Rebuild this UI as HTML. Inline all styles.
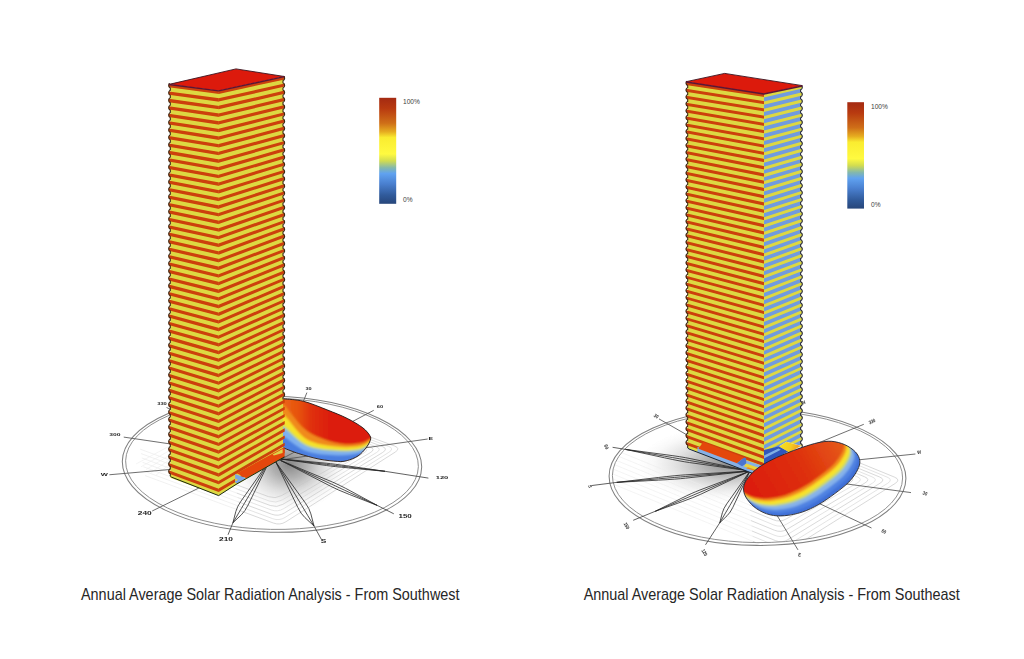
<!DOCTYPE html>
<html><head><meta charset="utf-8"><title>Annual Average Solar Radiation Analysis</title>
<style>
html,body{margin:0;padding:0;background:#fff;}
body{width:1024px;height:659px;overflow:hidden;position:relative;font-family:"Liberation Sans",sans-serif;}
svg{position:absolute;left:0;top:0;display:block;}
text{font-family:"Liberation Sans",sans-serif;}
</style></head><body>
<svg width="1024" height="659" viewBox="0 0 1024 659">
<defs>
<linearGradient id="leg" x1="0" y1="0" x2="0" y2="1">
<stop offset="0" stop-color="#a42a12"/>
<stop offset="0.10" stop-color="#b83a10"/>
<stop offset="0.24" stop-color="#cf6f18"/>
<stop offset="0.32" stop-color="#e6ac20"/>
<stop offset="0.375" stop-color="#faec30"/>
<stop offset="0.53" stop-color="#fffa40"/>
<stop offset="0.595" stop-color="#d2dc50"/>
<stop offset="0.66" stop-color="#84b8ac"/>
<stop offset="0.715" stop-color="#60a2f0"/>
<stop offset="0.81" stop-color="#4a80d0"/>
<stop offset="0.92" stop-color="#305a9a"/>
<stop offset="1" stop-color="#27467a"/>
</linearGradient>
<radialGradient id="shL" cx="0.5" cy="0.5" r="0.5">
<stop offset="0" stop-color="#707070" stop-opacity="0.85"/>
<stop offset="0.3" stop-color="#7c7c7c" stop-opacity="0.6"/>
<stop offset="0.6" stop-color="#888" stop-opacity="0.27"/>
<stop offset="0.85" stop-color="#999" stop-opacity="0.07"/>
<stop offset="1" stop-color="#999" stop-opacity="0"/>
</radialGradient>
<radialGradient id="shR" cx="0.5" cy="0.5" r="0.5">
<stop offset="0" stop-color="#707070" stop-opacity="0.8"/>
<stop offset="0.3" stop-color="#7c7c7c" stop-opacity="0.55"/>
<stop offset="0.6" stop-color="#888" stop-opacity="0.24"/>
<stop offset="0.85" stop-color="#999" stop-opacity="0.06"/>
<stop offset="1" stop-color="#999" stop-opacity="0"/>
</radialGradient>
<filter id="b1" x="-10%" y="-10%" width="120%" height="120%"><feGaussianBlur stdDeviation="0.9"/></filter>
<linearGradient id="ldtop" gradientUnits="userSpaceOnUse" x1="284" y1="0" x2="330" y2="0">
<stop offset="0" stop-color="#ea6214"/><stop offset="0.32" stop-color="#e6520f"/><stop offset="0.6" stop-color="#e0300e"/><stop offset="1" stop-color="#dc1e0c"/>
</linearGradient>
<linearGradient id="rdtop" gradientUnits="userSpaceOnUse" x1="765" y1="500" x2="850" y2="450">
<stop offset="0" stop-color="#dc1e0d"/><stop offset="0.55" stop-color="#de300e"/><stop offset="1" stop-color="#e55816"/>
</linearGradient>
<linearGradient id="canopy" gradientUnits="userSpaceOnUse" x1="781" y1="444" x2="798" y2="450">
<stop offset="0" stop-color="#f6de22"/><stop offset="0.55" stop-color="#f4cc20"/><stop offset="1" stop-color="#f09a1e"/>
</linearGradient>
<clipPath id="lgc"><ellipse cx="272" cy="464.2" rx="146" ry="66" transform="rotate(1.15 272 464.2)"/></clipPath>
<clipPath id="rgc"><ellipse cx="757.5" cy="477.2" rx="144.6" ry="66" transform="rotate(0.5 757.5 477.2)"/></clipPath>
<filter id="soft" x="-5%" y="-5%" width="110%" height="110%"><feGaussianBlur stdDeviation="0.35"/></filter>
<filter id="b2" x="-5%" y="-2%" width="110%" height="104%"><feGaussianBlur stdDeviation="0.55"/></filter>
</defs>

<g id="left-ground" filter="url(#soft)">
<ellipse cx="289" cy="464" rx="58" ry="47" fill="url(#shL)"/>
<g clip-path="url(#lgc)">
<line x1="145" y1="475.55" x2="240" y2="510.7" stroke="#e8e8e8" stroke-width="0.6"/>
<path d="M240 510.7 L273.43 523.07 Q280 525.5 285.9 521.74 L395.1 452.16 Q401 448.4 394.43 445.97 L356 431.75" fill="none" stroke="#c8c8c8" stroke-width="0.7"/>
<line x1="144.2" y1="471.15" x2="239.2" y2="506.3" stroke="#e8e8e8" stroke-width="0.6"/>
<path d="M239.2 506.3 L272.63 518.67 Q279.2 521.1 285.13 517.38 L388.87 452.32 Q394.8 448.6 388.23 446.17 L349.8 431.95" fill="none" stroke="#d8d8d8" stroke-width="0.7"/>
<line x1="143.4" y1="466.75" x2="238.4" y2="501.9" stroke="#e8e8e8" stroke-width="0.6"/>
<path d="M238.4 501.9 L271.83 514.27 Q278.4 516.7 284.36 513.03 L382.64 452.47 Q388.6 448.8 382.03 446.37 L343.6 432.15" fill="none" stroke="#c8c8c8" stroke-width="0.7"/>
<line x1="142.6" y1="462.35" x2="237.6" y2="497.5" stroke="#e8e8e8" stroke-width="0.6"/>
<path d="M237.6 497.5 L271.03 509.87 Q277.6 512.3 283.59 508.68 L376.41 452.62 Q382.4 449 375.83 446.57 L337.4 432.35" fill="none" stroke="#d8d8d8" stroke-width="0.7"/>
<line x1="141.8" y1="457.95" x2="236.8" y2="493.1" stroke="#e8e8e8" stroke-width="0.6"/>
<path d="M236.8 493.1 L270.23 505.47 Q276.8 507.9 282.83 504.34 L370.17 452.76 Q376.2 449.2 369.63 446.77 L331.2 432.55" fill="none" stroke="#c8c8c8" stroke-width="0.7"/>
<line x1="141" y1="453.55" x2="236" y2="488.7" stroke="#e8e8e8" stroke-width="0.6"/>
<path d="M236 488.7 L269.43 501.07 Q276 503.5 282.07 500.01 L363.93 452.89 Q370 449.4 363.43 446.97 L325 432.75" fill="none" stroke="#d8d8d8" stroke-width="0.7"/>
<line x1="140.2" y1="449.15" x2="235.2" y2="484.3" stroke="#e8e8e8" stroke-width="0.6"/>
<path d="M235.2 484.3 L268.63 496.67 Q275.2 499.1 281.31 495.69 L357.69 453.01 Q363.8 449.6 357.23 447.17 L318.8 432.95" fill="none" stroke="#c8c8c8" stroke-width="0.7"/>
<line x1="136" y1="464" x2="169.5" y2="446" stroke="#ececec" stroke-width="0.6"/>
<line x1="141" y1="466.8" x2="169.5" y2="450.6" stroke="#ececec" stroke-width="0.6"/>
<line x1="146" y1="469.6" x2="169.5" y2="455.2" stroke="#ececec" stroke-width="0.6"/>
<line x1="151" y1="472.4" x2="169.5" y2="459.8" stroke="#ececec" stroke-width="0.6"/>
<line x1="156" y1="475.2" x2="169.5" y2="464.4" stroke="#ececec" stroke-width="0.6"/>
</g>
<ellipse cx="272" cy="464.2" rx="149.7" ry="68" transform="rotate(1.15 272 464.2)" fill="none" stroke="#808080" stroke-width="1.05" />
<ellipse cx="272" cy="463.7" rx="146.4" ry="65.7" transform="rotate(1.15 272 463.7)" fill="none" stroke="#8a8a8a" stroke-width="0.95" />
<line x1="152.2" y1="511" x2="270" y2="453" stroke="#555" stroke-width="0.85"/>
<line x1="109.4" y1="474.75" x2="279.5" y2="460" stroke="#555" stroke-width="0.85"/>
<line x1="123.75" y1="437.1" x2="279.5" y2="460" stroke="#555" stroke-width="0.85"/>
<line x1="166.5" y1="407.5" x2="279.5" y2="460" stroke="#555" stroke-width="0.85"/>
<line x1="306.9" y1="392.6" x2="279.5" y2="460" stroke="#555" stroke-width="0.85"/>
<line x1="373.75" y1="410.3" x2="279.5" y2="460" stroke="#555" stroke-width="0.85"/>
<line x1="427.7" y1="439" x2="279.5" y2="460" stroke="#555" stroke-width="0.85"/>
<path d="M270 460 L248.02 505.16 Q245.02 511.32 241.39 514.77 L232.9 522.8" fill="none" stroke="#262626" stroke-width="0.8" stroke-linejoin="round"/>
<path d="M270 460 L244.53 503.11 Q241.06 508.98 238.61 513.13 L232.9 522.8" fill="none" stroke="#262626" stroke-width="0.8" stroke-linejoin="round"/>
<path d="M270 460 L241.05 501.05 Q237.1 506.64 235.84 511.49 L232.9 522.8" fill="none" stroke="#262626" stroke-width="0.8" stroke-linejoin="round"/>
<line x1="232.9" y1="522.8" x2="228" y2="534.8" stroke="#444" stroke-width="0.85"/>
<path d="M275.8 462 L305.46 503.11 Q309.51 508.72 310.86 513.9 L314 526" fill="none" stroke="#262626" stroke-width="0.8" stroke-linejoin="round"/>
<path d="M275.8 462 L301.68 505.37 Q305.21 511.28 307.85 515.7 L314 526" fill="none" stroke="#262626" stroke-width="0.8" stroke-linejoin="round"/>
<path d="M275.8 462 L297.91 507.62 Q300.92 513.84 304.84 517.49 L314 526" fill="none" stroke="#262626" stroke-width="0.8" stroke-linejoin="round"/>
<line x1="314" y1="526" x2="321.5" y2="539.6" stroke="#444" stroke-width="0.85"/>
<path d="M280.5 460.4 L332.52 482.09 Q339.62 485.04 350.89 491.15 L377.2 505.4" fill="none" stroke="#262626" stroke-width="0.8" stroke-linejoin="round"/>
<path d="M280.5 460.4 L331.56 484.16 Q338.52 487.4 350.12 492.8 L377.2 505.4" fill="none" stroke="#262626" stroke-width="0.8" stroke-linejoin="round"/>
<path d="M280.5 460.4 L330.59 486.23 Q337.42 489.76 349.36 494.45 L377.2 505.4" fill="none" stroke="#262626" stroke-width="0.8" stroke-linejoin="round"/>
<line x1="377.2" y1="505.4" x2="393.8" y2="513.8" stroke="#444" stroke-width="0.85"/>
<path d="M281 459 L326.89 463.28 Q333.15 463.86 348.71 466.09 L385 471.3" fill="none" stroke="#262626" stroke-width="0.8" stroke-linejoin="round"/>
<path d="M281 459 L326.76 464.41 Q333 465.15 348.6 467 L385 471.3" fill="none" stroke="#262626" stroke-width="0.8" stroke-linejoin="round"/>
<path d="M281 459 L326.63 465.55 Q332.85 466.44 348.49 467.9 L385 471.3" fill="none" stroke="#262626" stroke-width="0.8" stroke-linejoin="round"/>
<line x1="385" y1="471.3" x2="428.4" y2="478.1" stroke="#444" stroke-width="0.85"/>
<text transform="translate(162 405.4) rotate(0) scale(0.76 0.43)" font-size="7.6" font-weight="bold" text-anchor="middle" fill="#1c1c1c">330</text>
<text transform="translate(115 435.8) rotate(0) scale(0.89 0.51)" font-size="7.6" font-weight="bold" text-anchor="middle" fill="#1c1c1c">300</text>
<text transform="translate(104.4 476) rotate(0) scale(1 0.57)" font-size="7.6" font-weight="bold" text-anchor="middle" fill="#1c1c1c">W</text>
<text transform="translate(144.7 515) rotate(0) scale(1.1 0.63)" font-size="7.6" font-weight="bold" text-anchor="middle" fill="#1c1c1c">240</text>
<text transform="translate(226 540.6) rotate(0) scale(1.1 0.63)" font-size="7.6" font-weight="bold" text-anchor="middle" fill="#1c1c1c">210</text>
<text transform="translate(323.5 543.4) rotate(0) scale(1.1 0.63)" font-size="7.6" font-weight="bold" text-anchor="middle" fill="#1c1c1c">S</text>
<text transform="translate(405.1 518.2) rotate(0) scale(1.05 0.6)" font-size="7.6" font-weight="bold" text-anchor="middle" fill="#1c1c1c">150</text>
<text transform="translate(442 479.3) rotate(0) scale(1 0.57)" font-size="7.6" font-weight="bold" text-anchor="middle" fill="#1c1c1c">120</text>
<text transform="translate(430.8 439.8) rotate(0) scale(0.89 0.51)" font-size="7.6" font-weight="bold" text-anchor="middle" fill="#1c1c1c">E</text>
<text transform="translate(380 407.9) rotate(0) scale(0.76 0.43)" font-size="7.6" font-weight="bold" text-anchor="middle" fill="#1c1c1c">60</text>
<text transform="translate(308.6 390.3) rotate(0) scale(0.73 0.42)" font-size="7.6" font-weight="bold" text-anchor="middle" fill="#1c1c1c">30</text>
</g>
<g id="right-ground" filter="url(#soft)">
<ellipse cx="729" cy="464" rx="90" ry="38" fill="url(#shR)"/>
<g clip-path="url(#rgc)">
<line x1="613" y1="484" x2="753" y2="541.4" stroke="#ececec" stroke-width="0.6"/>
<path d="M753 541.4 L776.52 551.04 Q783 553.7 788.93 549.98 L895.07 483.52 Q901 479.8 894.52 477.14 L841 455.2" fill="none" stroke="#c8c8c8" stroke-width="0.7"/>
<line x1="612.5" y1="478.8" x2="752.5" y2="536.2" stroke="#ececec" stroke-width="0.6"/>
<path d="M752.5 536.2 L776.02 545.84 Q782.5 548.5 788.45 544.81 L887.55 483.39 Q893.5 479.7 887.02 477.04 L833.5 455.1" fill="none" stroke="#d8d8d8" stroke-width="0.7"/>
<line x1="612" y1="473.6" x2="752" y2="531" stroke="#ececec" stroke-width="0.6"/>
<path d="M752 531 L775.52 540.64 Q782 543.3 787.97 539.64 L880.03 483.26 Q886 479.6 879.52 476.94 L826 455" fill="none" stroke="#c8c8c8" stroke-width="0.7"/>
<line x1="611.5" y1="468.4" x2="751.5" y2="525.8" stroke="#ececec" stroke-width="0.6"/>
<path d="M751.5 525.8 L775.02 535.44 Q781.5 538.1 787.49 534.48 L872.51 483.12 Q878.5 479.5 872.02 476.84 L818.5 454.9" fill="none" stroke="#d8d8d8" stroke-width="0.7"/>
<line x1="611" y1="463.2" x2="751" y2="520.6" stroke="#ececec" stroke-width="0.6"/>
<path d="M751 520.6 L774.52 530.24 Q781 532.9 787.02 529.32 L864.98 482.98 Q871 479.4 864.52 476.74 L811 454.8" fill="none" stroke="#c8c8c8" stroke-width="0.7"/>
<line x1="610.5" y1="458" x2="750.5" y2="515.4" stroke="#ececec" stroke-width="0.6"/>
<path d="M750.5 515.4 L774.02 525.04 Q780.5 527.7 786.55 524.17 L857.45 482.83 Q863.5 479.3 857.02 476.64 L803.5 454.7" fill="none" stroke="#d8d8d8" stroke-width="0.7"/>
<line x1="610" y1="452.8" x2="750" y2="510.2" stroke="#ececec" stroke-width="0.6"/>
<path d="M750 510.2 L773.52 519.84 Q780 522.5 786.08 519.03 L849.92 482.67 Q856 479.2 849.52 476.54 L796 454.6" fill="none" stroke="#c8c8c8" stroke-width="0.7"/>
<line x1="609.5" y1="447.6" x2="749.5" y2="505" stroke="#ececec" stroke-width="0.6"/>
<path d="M749.5 505 L773.02 514.64 Q779.5 517.3 785.62 513.91 L842.38 482.49 Q848.5 479.1 842.02 476.44 L788.5 454.5" fill="none" stroke="#d8d8d8" stroke-width="0.7"/>
</g>
<ellipse cx="757.5" cy="477.2" rx="148.4" ry="68.2" transform="rotate(0.5 757.5 477.2)" fill="none" stroke="#808080" stroke-width="1.05" />
<ellipse cx="757.5" cy="476.7" rx="145.1" ry="65.9" transform="rotate(0.5 757.5 476.7)" fill="none" stroke="#8a8a8a" stroke-width="0.95" />
<line x1="659" y1="418.9" x2="750" y2="471" stroke="#555" stroke-width="0.85"/>
<line x1="915.4" y1="454" x2="750" y2="471" stroke="#555" stroke-width="0.85"/>
<line x1="911" y1="492.6" x2="750" y2="471" stroke="#555" stroke-width="0.85"/>
<line x1="871.5" y1="528" x2="750" y2="471" stroke="#555" stroke-width="0.85"/>
<line x1="798" y1="549.9" x2="750" y2="471" stroke="#555" stroke-width="0.85"/>
<line x1="863.8" y1="424.3" x2="750" y2="471" stroke="#555" stroke-width="0.85"/>
<path d="M750 471 L689.4 462.54 Q681.13 461.39 664.44 457.79 L625.5 449.4" fill="none" stroke="#262626" stroke-width="0.8" stroke-linejoin="round"/>
<path d="M750 471 L689.74 460.55 Q681.52 459.12 664.72 456.2 L625.5 449.4" fill="none" stroke="#262626" stroke-width="0.8" stroke-linejoin="round"/>
<path d="M750 471 L690.09 458.55 Q681.92 456.85 664.99 454.62 L625.5 449.4" fill="none" stroke="#262626" stroke-width="0.8" stroke-linejoin="round"/>
<line x1="625.5" y1="449.4" x2="612.6" y2="447.3" stroke="#444" stroke-width="0.85"/>
<path d="M750 471 L685.53 478.18 Q676.74 479.16 658.67 480.13 L616.5 482.4" fill="none" stroke="#262626" stroke-width="0.8" stroke-linejoin="round"/>
<path d="M750 471 L685.39 476.52 Q676.58 477.27 658.55 478.81 L616.5 482.4" fill="none" stroke="#262626" stroke-width="0.8" stroke-linejoin="round"/>
<path d="M750 471 L685.24 474.85 Q676.41 475.38 658.44 477.48 L616.5 482.4" fill="none" stroke="#262626" stroke-width="0.8" stroke-linejoin="round"/>
<line x1="616.5" y1="482.4" x2="592" y2="485.5" stroke="#444" stroke-width="0.85"/>
<path d="M750 471 L700.77 494.22 Q694.06 497.39 682.4 501.56 L655.2 511.3" fill="none" stroke="#262626" stroke-width="0.8" stroke-linejoin="round"/>
<path d="M750 471 L699.95 492.28 Q693.12 495.18 681.74 500.02 L655.2 511.3" fill="none" stroke="#262626" stroke-width="0.8" stroke-linejoin="round"/>
<path d="M750 471 L699.12 490.33 Q692.18 492.97 681.09 498.47 L655.2 511.3" fill="none" stroke="#262626" stroke-width="0.8" stroke-linejoin="round"/>
<line x1="655.2" y1="511.3" x2="633.2" y2="520.3" stroke="#444" stroke-width="0.85"/>
<path d="M750 471 L732.78 507.49 Q730.43 512.46 727.21 515.59 L719.7 522.9" fill="none" stroke="#262626" stroke-width="0.8" stroke-linejoin="round"/>
<path d="M750 471 L729.74 505.71 Q726.97 510.44 724.79 514.18 L719.7 522.9" fill="none" stroke="#262626" stroke-width="0.8" stroke-linejoin="round"/>
<path d="M750 471 L726.7 503.94 Q723.52 508.43 722.37 512.77 L719.7 522.9" fill="none" stroke="#262626" stroke-width="0.8" stroke-linejoin="round"/>
<line x1="719.7" y1="522.9" x2="705.5" y2="544.8" stroke="#444" stroke-width="0.85"/>
<text transform="translate(655.2 417.5) rotate(35) scale(0.55 0.68)" font-size="7.5" font-weight="bold" text-anchor="middle" fill="#2a2a2a">30</text>
<text transform="translate(604.8 447.5) rotate(70) scale(0.55 0.68)" font-size="7.5" font-weight="bold" text-anchor="middle" fill="#2a2a2a">60</text>
<text transform="translate(588.6 486.5) rotate(80) scale(0.55 0.68)" font-size="7.5" font-weight="bold" text-anchor="middle" fill="#2a2a2a">S</text>
<text transform="translate(625 526.5) rotate(65) scale(0.55 0.68)" font-size="7.5" font-weight="bold" text-anchor="middle" fill="#2a2a2a">150</text>
<text transform="translate(703 553.5) rotate(60) scale(0.55 0.68)" font-size="7.5" font-weight="bold" text-anchor="middle" fill="#2a2a2a">120</text>
<text transform="translate(919.5 453.8) rotate(-10) scale(0.55 0.68)" font-size="7.5" font-weight="bold" text-anchor="middle" fill="#2a2a2a">W</text>
<text transform="translate(924.4 495) rotate(20) scale(0.55 0.68)" font-size="7.5" font-weight="bold" text-anchor="middle" fill="#2a2a2a">30</text>
<text transform="translate(883 533) rotate(30) scale(0.55 0.68)" font-size="7.5" font-weight="bold" text-anchor="middle" fill="#2a2a2a">60</text>
<text transform="translate(799.3 556.5) rotate(10) scale(0.55 0.68)" font-size="7.5" font-weight="bold" text-anchor="middle" fill="#2a2a2a">E</text>
<text transform="translate(872.8 423) rotate(-25) scale(0.55 0.68)" font-size="7.5" font-weight="bold" text-anchor="middle" fill="#2a2a2a">330</text>
<text transform="translate(804.5 404) rotate(-20) scale(0.55 0.68)" font-size="7.5" font-weight="bold" text-anchor="middle" fill="#2a2a2a">N</text>
</g>
<clipPath id="ldc"><path d="M280 398.6 C280.65 398.65 280 398.46 283.9 398.9 C287.8 399.34 296.23 399.43 303.4 401.25 C310.57 403.07 319.6 406.94 326.9 409.8 C334.2 412.66 341.22 415.4 347.2 418.4 C353.18 421.4 359.03 424.93 362.8 427.8 C366.57 430.67 368.55 433.52 369.8 435.6 C371.05 437.68 370.95 438.22 370.3 440.3 C369.65 442.38 367.93 445.5 365.9 448.1 C363.87 450.7 361.22 453.82 358.1 455.9 C354.98 457.98 350.58 459.68 347.2 460.6 C343.82 461.52 342.48 461.65 337.8 461.4 C333.12 461.15 325.61 460.4 319.1 459.1 C312.59 457.8 304.62 455.43 298.75 453.6 C292.88 451.77 287.02 449.23 283.9 448.1 C280.77 446.97 280.65 447.02 280 446.8Z"/></clipPath>
<g id="left-dome">
<g clip-path="url(#ldc)">
<rect x="276" y="392" width="100" height="76" fill="#4a7ee0"/>
<g filter="url(#b1)">
<path d="M272 385 L272 434.5 L278 434.5  C279.17 435 280.17 434.67 285 437.5 C289.83 440.33 298.33 448.52 307 451.5 C315.67 454.48 328.17 455.15 337 455.4 C345.83 455.65 354.17 454.87 360 453 C365.83 451.13 370 445.67 372 444.2 L380 436.2 L380 385Z" fill="#7fb0ee"/>
<path d="M272 385 L272 425.5 L278 425.5  C279.17 426 280.17 425.08 285 428.5 C289.83 431.92 298.33 442.25 307 446 C315.67 449.75 328.17 450.37 337 451 C345.83 451.63 354.17 451.23 360 449.8 C365.83 448.37 370 443.63 372 442.4 L380 434.4 L380 385Z" fill="#c9dc60"/>
<path d="M272 385 L272 423 L278 423  C279.17 423.5 280.17 422.43 285 426 C289.83 429.57 298.33 440.43 307 444.4 C315.67 448.37 328.17 449.07 337 449.8 C345.83 450.53 354.17 450.17 360 448.8 C365.83 447.43 370 442.8 372 441.6 L380 433.6 L380 385Z" fill="#f6e22c"/>
<path d="M272 385 L272 413 L278 413  C279.17 413.5 280.17 411.58 285 416 C289.83 420.42 298.33 434.4 307 439.5 C315.67 444.6 328.17 445.52 337 446.6 C345.83 447.68 354.17 447.1 360 446 C365.83 444.9 370 441 372 440 L380 432 L380 385Z" fill="#f08a1c"/>
<path d="M272 385 L272 400 L278 400  C279.17 401 280.17 400.83 285 406 C289.83 411.17 298.33 424.83 307 431 C315.67 437.17 328.17 440.97 337 443 C345.83 445.03 354.17 444.03 360 443.2 C365.83 442.37 370 438.87 372 438 L380 430 L380 385Z" fill="url(#ldtop)"/>
</g>
</g>
<path d="M283.9 398.9 C287.15 399.29 296.23 399.43 303.4 401.25 C310.57 403.07 319.6 406.94 326.9 409.8 C334.2 412.66 341.22 415.4 347.2 418.4 C353.18 421.4 359.03 424.93 362.8 427.8 C366.57 430.67 368.55 433.52 369.8 435.6 C371.05 437.68 370.95 438.22 370.3 440.3 C369.65 442.38 367.93 445.5 365.9 448.1 C363.87 450.7 361.22 453.82 358.1 455.9 C354.98 457.98 350.58 459.68 347.2 460.6 C343.82 461.52 342.48 461.65 337.8 461.4 C333.12 461.15 325.61 460.4 319.1 459.1 C312.59 457.8 304.62 455.43 298.75 453.6 C292.88 451.77 286.38 449.02 283.9 448.1" fill="none" stroke="#2a1a12" stroke-width="0.9"/>
</g>
<g id="left-tower">
<clipPath id="tlL"><polygon points="168.3,84.15 219.4,90.78 219.4,495.63 168.3,476.89"/></clipPath>
<clipPath id="tlR"><polygon points="218.6,90.67 285,76.39 285,456.13 218.6,495.31"/></clipPath>
<g clip-path="url(#tlL)"><g filter="url(#b2)">
<polygon points="170.3,77.98 219.4,84.55 219.4,518.28 170.3,498.48" fill="#ddd842"/>
<polygon points="168.6,84 219.4,90.63 219.4,94 168.6,87.27" fill="#cc3f08"/>
<polygon points="168.6,91.43 219.4,98.29 219.4,101.66 168.6,94.7" fill="#cc3f08"/>
<polygon points="168.6,98.86 219.4,105.95 219.4,109.32 168.6,102.13" fill="#cc3f08"/>
<polygon points="168.6,106.29 219.4,113.6 219.4,116.97 168.6,109.56" fill="#cc3f08"/>
<polygon points="168.6,113.72 219.4,121.26 219.4,124.63 168.6,116.99" fill="#cc3f08"/>
<polygon points="168.6,121.15 219.4,128.92 219.4,132.29 168.6,124.42" fill="#cc3f08"/>
<polygon points="168.6,128.58 219.4,136.58 219.4,139.95 168.6,131.85" fill="#cc3f08"/>
<polygon points="168.6,136.01 219.4,144.24 219.4,147.61 168.6,139.28" fill="#cc3f08"/>
<polygon points="168.6,143.44 219.4,151.9 219.4,155.27 168.6,146.71" fill="#cc3f08"/>
<polygon points="168.6,150.87 219.4,159.56 219.4,162.93 168.6,154.14" fill="#cc3f08"/>
<polygon points="168.6,158.3 219.4,167.22 219.4,170.59 168.6,161.57" fill="#cc3f08"/>
<polygon points="168.6,165.73 219.4,174.88 219.4,178.25 168.6,169" fill="#cc3f08"/>
<polygon points="168.6,173.16 219.4,182.53 219.4,185.9 168.6,176.43" fill="#cc3f08"/>
<polygon points="168.6,180.59 219.4,190.19 219.4,193.56 168.6,183.86" fill="#cc3f08"/>
<polygon points="168.6,188.02 219.4,197.85 219.4,201.22 168.6,191.29" fill="#cc3f08"/>
<polygon points="168.6,195.45 219.4,205.51 219.4,208.88 168.6,198.72" fill="#cc3f08"/>
<polygon points="168.6,202.88 219.4,213.17 219.4,216.54 168.6,206.15" fill="#cc3f08"/>
<polygon points="168.6,210.31 219.4,220.83 219.4,224.2 168.6,213.58" fill="#cc3f08"/>
<polygon points="168.6,217.74 219.4,228.49 219.4,231.86 168.6,221.01" fill="#cc3f08"/>
<polygon points="168.6,225.17 219.4,236.15 219.4,239.52 168.6,228.44" fill="#cc3f08"/>
<polygon points="168.6,232.6 219.4,243.81 219.4,247.17 168.6,235.87" fill="#cc3f08"/>
<polygon points="168.6,240.03 219.4,251.46 219.4,254.83 168.6,243.3" fill="#cc3f08"/>
<polygon points="168.6,247.46 219.4,259.12 219.4,262.49 168.6,250.73" fill="#cc3f08"/>
<polygon points="168.6,254.89 219.4,266.78 219.4,270.15 168.6,258.16" fill="#cc3f08"/>
<polygon points="168.6,262.32 219.4,274.44 219.4,277.81 168.6,265.59" fill="#cc3f08"/>
<polygon points="168.6,269.75 219.4,282.1 219.4,285.47 168.6,273.02" fill="#cc3f08"/>
<polygon points="168.6,277.18 219.4,289.76 219.4,293.13 168.6,280.45" fill="#cc3f08"/>
<polygon points="168.6,284.61 219.4,297.42 219.4,300.79 168.6,287.88" fill="#cc3f08"/>
<polygon points="168.6,292.04 219.4,305.08 219.4,308.45 168.6,295.31" fill="#cc3f08"/>
<polygon points="168.6,299.47 219.4,312.73 219.4,316.1 168.6,302.74" fill="#cc3f08"/>
<polygon points="168.6,306.9 219.4,320.39 219.4,323.76 168.6,310.17" fill="#cc3f08"/>
<polygon points="168.6,314.33 219.4,328.05 219.4,331.42 168.6,317.6" fill="#cc3f08"/>
<polygon points="168.6,321.76 219.4,335.71 219.4,339.08 168.6,325.02" fill="#cc3f08"/>
<polygon points="168.6,329.19 219.4,343.37 219.4,346.74 168.6,332.45" fill="#cc3f08"/>
<polygon points="168.6,336.62 219.4,351.03 219.4,354.4 168.6,339.88" fill="#cc3f08"/>
<polygon points="168.6,344.04 219.4,358.69 219.4,362.06 168.6,347.31" fill="#cc3f08"/>
<polygon points="168.6,351.47 219.4,366.35 219.4,369.72 168.6,354.74" fill="#cc3f08"/>
<polygon points="168.6,358.9 219.4,374.01 219.4,377.38 168.6,362.17" fill="#cc3f08"/>
<polygon points="168.6,366.33 219.4,381.66 219.4,385.03 168.6,369.6" fill="#cc3f08"/>
<polygon points="168.6,373.76 219.4,389.32 219.4,392.69 168.6,377.03" fill="#cc3f08"/>
<polygon points="168.6,381.19 219.4,396.98 219.4,400.35 168.6,384.46" fill="#cc3f08"/>
<polygon points="168.6,388.62 219.4,404.64 219.4,408.01 168.6,391.89" fill="#cc3f08"/>
<polygon points="168.6,396.05 219.4,412.3 219.4,415.67 168.6,399.32" fill="#cc3f08"/>
<polygon points="168.6,403.48 219.4,419.96 219.4,423.33 168.6,406.75" fill="#cc3f08"/>
<polygon points="168.6,410.91 219.4,427.62 219.4,430.99 168.6,414.18" fill="#cc3f08"/>
<polygon points="168.6,418.34 219.4,435.28 219.4,438.65 168.6,421.61" fill="#cc3f08"/>
<polygon points="168.6,425.77 219.4,442.94 219.4,446.31 168.6,429.04" fill="#cc3f08"/>
<polygon points="168.6,433.2 219.4,450.59 219.4,453.96 168.6,436.47" fill="#cc3f08"/>
<polygon points="168.6,440.63 219.4,458.25 219.4,461.62 168.6,443.9" fill="#cc3f08"/>
<polygon points="168.6,448.06 219.4,465.91 219.4,469.28 168.6,451.33" fill="#cc3f08"/>
<polygon points="168.6,455.49 219.4,473.57 219.4,476.94 168.6,458.76" fill="#cc3f08"/>
<polygon points="168.6,462.92 219.4,481.23 219.4,484.6 168.6,466.19" fill="#cc3f08"/>
<polygon points="168.6,470.35 219.4,488.89 219.4,492.26 168.6,473.62" fill="#cc3f08"/>
<polygon points="168.6,477.78 219.4,496.55 219.4,499.92 168.6,481.05" fill="#cc3f08"/>
<polygon points="168.6,485.21 219.4,504.21 219.4,507.58 168.6,488.48" fill="#cc3f08"/>
<polygon points="168.6,492.64 219.4,511.87 219.4,515.24 168.6,495.91" fill="#cc3f08"/>
</g></g>
<g clip-path="url(#tlR)"><g filter="url(#b2)">
<polygon points="218.6,84.55 283,71 283,478.73 218.6,518.28" fill="#ddd842"/>
<polygon points="218.6,90.52 284.7,76.25 284.7,79.41 218.6,93.88" fill="#cc3f08"/>
<polygon points="218.6,98.17 284.7,83.43 284.7,86.59 218.6,101.54" fill="#cc3f08"/>
<polygon points="218.6,105.83 284.7,90.62 284.7,93.78 218.6,109.19" fill="#cc3f08"/>
<polygon points="218.6,113.48 284.7,97.8 284.7,100.96 218.6,116.85" fill="#cc3f08"/>
<polygon points="218.6,121.14 284.7,104.99 284.7,108.15 218.6,124.5" fill="#cc3f08"/>
<polygon points="218.6,128.79 284.7,112.17 284.7,115.33 218.6,132.16" fill="#cc3f08"/>
<polygon points="218.6,136.45 284.7,119.35 284.7,122.51 218.6,139.81" fill="#cc3f08"/>
<polygon points="218.6,144.1 284.7,126.54 284.7,129.7 218.6,147.47" fill="#cc3f08"/>
<polygon points="218.6,151.76 284.7,133.72 284.7,136.88 218.6,155.12" fill="#cc3f08"/>
<polygon points="218.6,159.41 284.7,140.9 284.7,144.07 218.6,162.78" fill="#cc3f08"/>
<polygon points="218.6,167.07 284.7,148.09 284.7,151.25 218.6,170.43" fill="#cc3f08"/>
<polygon points="218.6,174.72 284.7,155.27 284.7,158.43 218.6,178.09" fill="#cc3f08"/>
<polygon points="218.6,182.38 284.7,162.46 284.7,165.62 218.6,185.74" fill="#cc3f08"/>
<polygon points="218.6,190.03 284.7,169.64 284.7,172.8 218.6,193.4" fill="#cc3f08"/>
<polygon points="218.6,197.69 284.7,176.82 284.7,179.99 218.6,201.05" fill="#cc3f08"/>
<polygon points="218.6,205.34 284.7,184.01 284.7,187.17 218.6,208.71" fill="#cc3f08"/>
<polygon points="218.6,213 284.7,191.19 284.7,194.35 218.6,216.36" fill="#cc3f08"/>
<polygon points="218.6,220.65 284.7,198.38 284.7,201.54 218.6,224.02" fill="#cc3f08"/>
<polygon points="218.6,228.31 284.7,205.56 284.7,208.72 218.6,231.67" fill="#cc3f08"/>
<polygon points="218.6,235.96 284.7,212.74 284.7,215.9 218.6,239.33" fill="#cc3f08"/>
<polygon points="218.6,243.62 284.7,219.93 284.7,223.09 218.6,246.98" fill="#cc3f08"/>
<polygon points="218.6,251.27 284.7,227.11 284.7,230.27 218.6,254.64" fill="#cc3f08"/>
<polygon points="218.6,258.93 284.7,234.3 284.7,237.46 218.6,262.29" fill="#cc3f08"/>
<polygon points="218.6,266.58 284.7,241.48 284.7,244.64 218.6,269.95" fill="#cc3f08"/>
<polygon points="218.6,274.24 284.7,248.66 284.7,251.82 218.6,277.6" fill="#cc3f08"/>
<polygon points="218.6,281.89 284.7,255.85 284.7,259.01 218.6,285.26" fill="#cc3f08"/>
<polygon points="218.6,289.55 284.7,263.03 284.7,266.19 218.6,292.91" fill="#cc3f08"/>
<polygon points="218.6,297.2 284.7,270.21 284.7,273.38 218.6,300.57" fill="#cc3f08"/>
<polygon points="218.6,304.86 284.7,277.4 284.7,280.56 218.6,308.22" fill="#cc3f08"/>
<polygon points="218.6,312.51 284.7,284.58 284.7,287.74 218.6,315.88" fill="#cc3f08"/>
<polygon points="218.6,320.17 284.7,291.77 284.7,294.93 218.6,323.53" fill="#cc3f08"/>
<polygon points="218.6,327.82 284.7,298.95 284.7,302.11 218.6,331.19" fill="#cc3f08"/>
<polygon points="218.6,335.48 284.7,306.13 284.7,309.3 218.6,338.84" fill="#cc3f08"/>
<polygon points="218.6,343.13 284.7,313.32 284.7,316.48 218.6,346.5" fill="#cc3f08"/>
<polygon points="218.6,350.79 284.7,320.5 284.7,323.66 218.6,354.15" fill="#cc3f08"/>
<polygon points="218.6,358.44 284.7,327.69 284.7,330.85 218.6,361.81" fill="#cc3f08"/>
<polygon points="218.6,366.1 284.7,334.87 284.7,338.03 218.6,369.46" fill="#cc3f08"/>
<polygon points="218.6,373.75 284.7,342.05 284.7,345.21 218.6,377.12" fill="#cc3f08"/>
<polygon points="218.6,381.41 284.7,349.24 284.7,352.4 218.6,384.77" fill="#cc3f08"/>
<polygon points="218.6,389.06 284.7,356.42 284.7,359.58 218.6,392.43" fill="#cc3f08"/>
<polygon points="218.6,396.72 284.7,363.61 284.7,366.77 218.6,400.08" fill="#cc3f08"/>
<polygon points="218.6,404.37 284.7,370.79 284.7,373.95 218.6,407.74" fill="#cc3f08"/>
<polygon points="218.6,412.03 284.7,377.97 284.7,381.13 218.6,415.39" fill="#cc3f08"/>
<polygon points="218.6,419.68 284.7,385.16 284.7,388.32 218.6,423.05" fill="#cc3f08"/>
<polygon points="218.6,427.34 284.7,392.34 284.7,395.5 218.6,430.7" fill="#cc3f08"/>
<polygon points="218.6,434.99 284.7,399.52 284.7,402.69 218.6,438.36" fill="#cc3f08"/>
<polygon points="218.6,442.65 284.7,406.71 284.7,409.87 218.6,446.01" fill="#cc3f08"/>
<polygon points="218.6,450.3 284.7,413.89 284.7,417.05 218.6,453.67" fill="#cc3f08"/>
<polygon points="218.6,457.96 284.7,421.08 284.7,424.24 218.6,461.32" fill="#cc3f08"/>
<polygon points="218.6,465.61 284.7,428.26 284.7,431.42 218.6,468.98" fill="#cc3f08"/>
<polygon points="218.6,473.27 284.7,435.44 284.7,438.61 218.6,476.63" fill="#cc3f08"/>
<polygon points="218.6,480.92 284.7,442.63 284.7,445.79 218.6,484.29" fill="#cc3f08"/>
<polygon points="218.6,488.58 284.7,449.81 284.7,452.97 218.6,491.94" fill="#cc3f08"/>
<polygon points="218.6,496.23 284.7,457 284.7,460.16 218.6,499.6" fill="#cc3f08"/>
<polygon points="218.6,503.89 284.7,464.18 284.7,467.34 218.6,507.25" fill="#cc3f08"/>
<polygon points="218.6,511.54 284.7,471.36 284.7,474.52 218.6,514.91" fill="#cc3f08"/>
</g></g>
<polygon points="236.9,473.3 271.9,453.9 284.6,446.9 284.6,456.6 278.1,460.2 246.25,478.3" fill="#e4470c"/>
<polygon points="272.6,454.6 282.6,449 282.6,452.9 273.9,455.6" fill="#ddd24a"/>
<polygon points="235.2,474 246.25,478.3 237,483.5 235,482" fill="#7aa6e4"/>
<polygon points="235.4,478.6 237.6,479.2 236.4,481.2 235.2,480.6" fill="#e8c83a"/>
<path d="M168.6 83.77 L169.37 83.57 Q168.01 85.4 169.37 87.23 L170.3 87.93 L170.3 90.29 L169.37 90.99 Q168.01 92.82 169.37 94.65 L170.3 95.35 L170.3 97.71 L169.37 98.41 Q168.01 100.24 169.37 102.08 L170.3 102.78 L170.3 105.13 L169.37 105.83 Q168.01 107.66 169.37 109.5 L170.3 110.2 L170.3 112.55 L169.37 113.25 Q168.01 115.09 169.37 116.92 L170.3 117.62 L170.3 119.97 L169.37 120.67 Q168.01 122.51 169.37 124.34 L170.3 125.04 L170.3 127.4 L169.37 128.1 Q168.01 129.93 169.37 131.76 L170.3 132.46 L170.3 134.82 L169.37 135.52 Q168.01 137.35 169.37 139.18 L170.3 139.88 L170.3 142.24 L169.37 142.94 Q168.01 144.77 169.37 146.6 L170.3 147.3 L170.3 149.66 L169.37 150.36 Q168.01 152.19 169.37 154.03 L170.3 154.73 L170.3 157.08 L169.37 157.78 Q168.01 159.62 169.37 161.45 L170.3 162.15 L170.3 164.5 L169.37 165.2 Q168.01 167.04 169.37 168.87 L170.3 169.57 L170.3 171.93 L169.37 172.63 Q168.01 174.46 169.37 176.29 L170.3 176.99 L170.3 179.35 L169.37 180.05 Q168.01 181.88 169.37 183.71 L170.3 184.41 L170.3 186.77 L169.37 187.47 Q168.01 189.3 169.37 191.13 L170.3 191.83 L170.3 194.19 L169.37 194.89 Q168.01 196.72 169.37 198.56 L170.3 199.26 L170.3 201.61 L169.37 202.31 Q168.01 204.14 169.37 205.98 L170.3 206.68 L170.3 209.03 L169.37 209.73 Q168.01 211.57 169.37 213.4 L170.3 214.1 L170.3 216.45 L169.37 217.15 Q168.01 218.99 169.37 220.82 L170.3 221.52 L170.3 223.88 L169.37 224.58 Q168.01 226.41 169.37 228.24 L170.3 228.94 L170.3 231.3 L169.37 232 Q168.01 233.83 169.37 235.66 L170.3 236.36 L170.3 238.72 L169.37 239.42 Q168.01 241.25 169.37 243.08 L170.3 243.78 L170.3 246.14 L169.37 246.84 Q168.01 248.67 169.37 250.51 L170.3 251.21 L170.3 253.56 L169.37 254.26 Q168.01 256.09 169.37 257.93 L170.3 258.63 L170.3 260.98 L169.37 261.68 Q168.01 263.52 169.37 265.35 L170.3 266.05 L170.3 268.4 L169.37 269.1 Q168.01 270.94 169.37 272.77 L170.3 273.47 L170.3 275.83 L169.37 276.53 Q168.01 278.36 169.37 280.19 L170.3 280.89 L170.3 283.25 L169.37 283.95 Q168.01 285.78 169.37 287.61 L170.3 288.31 L170.3 290.67 L169.37 291.37 Q168.01 293.2 169.37 295.03 L170.3 295.73 L170.3 298.09 L169.37 298.79 Q168.01 300.62 169.37 302.46 L170.3 303.16 L170.3 305.51 L169.37 306.21 Q168.01 308.05 169.37 309.88 L170.3 310.58 L170.3 312.93 L169.37 313.63 Q168.01 315.47 169.37 317.3 L170.3 318 L170.3 320.36 L169.37 321.06 Q168.01 322.89 169.37 324.72 L170.3 325.42 L170.3 327.78 L169.37 328.48 Q168.01 330.31 169.37 332.14 L170.3 332.84 L170.3 335.2 L169.37 335.9 Q168.01 337.73 169.37 339.56 L170.3 340.26 L170.3 342.62 L169.37 343.32 Q168.01 345.15 169.37 346.99 L170.3 347.69 L170.3 350.04 L169.37 350.74 Q168.01 352.57 169.37 354.41 L170.3 355.11 L170.3 357.46 L169.37 358.16 Q168.01 360 169.37 361.83 L170.3 362.53 L170.3 364.88 L169.37 365.58 Q168.01 367.42 169.37 369.25 L170.3 369.95 L170.3 372.31 L169.37 373.01 Q168.01 374.84 169.37 376.67 L170.3 377.37 L170.3 379.73 L169.37 380.43 Q168.01 382.26 169.37 384.09 L170.3 384.79 L170.3 387.15 L169.37 387.85 Q168.01 389.68 169.37 391.51 L170.3 392.21 L170.3 394.57 L169.37 395.27 Q168.01 397.1 169.37 398.94 L170.3 399.64 L170.3 401.99 L169.37 402.69 Q168.01 404.52 169.37 406.36 L170.3 407.06 L170.3 409.41 L169.37 410.11 Q168.01 411.95 169.37 413.78 L170.3 414.48 L170.3 416.83 L169.37 417.53 Q168.01 419.37 169.37 421.2 L170.3 421.9 L170.3 424.26 L169.37 424.96 Q168.01 426.79 169.37 428.62 L170.3 429.32 L170.3 431.68 L169.37 432.38 Q168.01 434.21 169.37 436.04 L170.3 436.74 L170.3 439.1 L169.37 439.8 Q168.01 441.63 169.37 443.46 L170.3 444.16 L170.3 446.52 L169.37 447.22 Q168.01 449.05 169.37 450.89 L170.3 451.59 L170.3 453.94 L169.37 454.64 Q168.01 456.47 169.37 458.31 L170.3 459.01 L170.3 461.36 L169.37 462.06 Q168.01 463.9 169.37 465.73 L170.3 466.43 L170.3 468.79 L169.37 469.49 Q168.01 471.32 169.37 473.15 L170.3 473.85 L170.3 475.6" fill="none" stroke="#3b2a14" stroke-width="1.1" stroke-linejoin="round"/>
<path d="M284.7 76.62 L283.94 76.42 Q285.3 78.2 283.94 79.98 L283 80.68 L283 82.91 L283.94 83.61 Q285.3 85.4 283.94 87.18 L283 87.88 L283 90.11 L283.94 90.81 Q285.3 92.59 283.94 94.38 L283 95.08 L283 97.3 L283.94 98 Q285.3 99.79 283.94 101.57 L283 102.27 L283 104.5 L283.94 105.2 Q285.3 106.98 283.94 108.77 L283 109.47 L283 111.7 L283.94 112.4 Q285.3 114.18 283.94 115.96 L283 116.66 L283 118.89 L283.94 119.59 Q285.3 121.38 283.94 123.16 L283 123.86 L283 126.09 L283.94 126.79 Q285.3 128.57 283.94 130.36 L283 131.06 L283 133.28 L283.94 133.98 Q285.3 135.77 283.94 137.55 L283 138.25 L283 140.48 L283.94 141.18 Q285.3 142.96 283.94 144.75 L283 145.45 L283 147.68 L283.94 148.38 Q285.3 150.16 283.94 151.94 L283 152.64 L283 154.87 L283.94 155.57 Q285.3 157.36 283.94 159.14 L283 159.84 L283 162.07 L283.94 162.77 Q285.3 164.55 283.94 166.34 L283 167.04 L283 169.26 L283.94 169.96 Q285.3 171.75 283.94 173.53 L283 174.23 L283 176.46 L283.94 177.16 Q285.3 178.94 283.94 180.73 L283 181.43 L283 183.66 L283.94 184.36 Q285.3 186.14 283.94 187.92 L283 188.62 L283 190.85 L283.94 191.55 Q285.3 193.34 283.94 195.12 L283 195.82 L283 198.05 L283.94 198.75 Q285.3 200.53 283.94 202.32 L283 203.02 L283 205.24 L283.94 205.94 Q285.3 207.73 283.94 209.51 L283 210.21 L283 212.44 L283.94 213.14 Q285.3 214.92 283.94 216.71 L283 217.41 L283 219.64 L283.94 220.34 Q285.3 222.12 283.94 223.9 L283 224.6 L283 226.83 L283.94 227.53 Q285.3 229.32 283.94 231.1 L283 231.8 L283 234.03 L283.94 234.73 Q285.3 236.51 283.94 238.3 L283 239 L283 241.22 L283.94 241.92 Q285.3 243.71 283.94 245.49 L283 246.19 L283 248.42 L283.94 249.12 Q285.3 250.9 283.94 252.69 L283 253.39 L283 255.62 L283.94 256.32 Q285.3 258.1 283.94 259.88 L283 260.58 L283 262.81 L283.94 263.51 Q285.3 265.3 283.94 267.08 L283 267.78 L283 270.01 L283.94 270.71 Q285.3 272.49 283.94 274.28 L283 274.98 L283 277.2 L283.94 277.9 Q285.3 279.69 283.94 281.47 L283 282.17 L283 284.4 L283.94 285.1 Q285.3 286.88 283.94 288.67 L283 289.37 L283 291.6 L283.94 292.3 Q285.3 294.08 283.94 295.86 L283 296.56 L283 298.79 L283.94 299.49 Q285.3 301.28 283.94 303.06 L283 303.76 L283 305.99 L283.94 306.69 Q285.3 308.47 283.94 310.26 L283 310.96 L283 313.18 L283.94 313.88 Q285.3 315.67 283.94 317.45 L283 318.15 L283 320.38 L283.94 321.08 Q285.3 322.86 283.94 324.65 L283 325.35 L283 327.58 L283.94 328.28 Q285.3 330.06 283.94 331.84 L283 332.54 L283 334.77 L283.94 335.47 Q285.3 337.26 283.94 339.04 L283 339.74 L283 341.97 L283.94 342.67 Q285.3 344.45 283.94 346.24 L283 346.94 L283 349.16 L283.94 349.86 Q285.3 351.65 283.94 353.43 L283 354.13 L283 356.36 L283.94 357.06 Q285.3 358.84 283.94 360.63 L283 361.33 L283 363.56 L283.94 364.26 Q285.3 366.04 283.94 367.82 L283 368.52 L283 370.75 L283.94 371.45 Q285.3 373.24 283.94 375.02 L283 375.72 L283 377.95 L283.94 378.65 Q285.3 380.43 283.94 382.22 L283 382.92 L283 385.14 L283.94 385.84 Q285.3 387.63 283.94 389.41 L283 390.11 L283 392.34 L283.94 393.04 Q285.3 394.82 283.94 396.61 L283 397.31 L283 399.5" fill="none" stroke="#3b2a14" stroke-width="1.1" stroke-linejoin="round"/>
<path d="M170.1 475.2 Q170.2 476.6 171.6 477.2 L218.6 495.6 L237 483.8 L246.25 478.6 L278.1 460.5 L284.6 456.8" fill="none" stroke="#1c2a10" stroke-width="1" stroke-linejoin="round"/>
<polygon points="169,84.3 236,68.9 284.3,76.5 218.6,90.7" fill="#dc1a0c"/>
<path d="M169 84.4 L236 68.9 L284.4 76.5" fill="none" stroke="#3a1420" stroke-width="0.9" stroke-linejoin="round"/>
<path d="M169 84.5 L218.6 90.8 L284.4 76.7" fill="none" stroke="#5a1636" stroke-width="1.3" stroke-linejoin="round"/>
</g>
<g id="right-tower">
<clipPath id="trL"><polygon points="685.8,81.41 764.7,94.04 764.7,478 753.2,473.2 688,448.3 685.8,448.3"/></clipPath>
<clipPath id="trR"><polygon points="763.9,94.41 802.5,85.45 802.5,446.2 786.4,441.8 779.1,446.4 763.9,450.4"/></clipPath>
<g clip-path="url(#trL)"><g filter="url(#b2)">
<polygon points="687.7,76.19 764.7,88.12 764.7,500.08 687.7,469.42" fill="#ddd842"/>
<polygon points="685.9,81.9 764.7,93.93 764.7,97.05 685.9,84.88" fill="#cc3f08"/>
<polygon points="685.9,88.82 764.7,101.17 764.7,104.29 685.9,91.8" fill="#cc3f08"/>
<polygon points="685.9,95.74 764.7,108.42 764.7,111.53 685.9,98.71" fill="#cc3f08"/>
<polygon points="685.9,102.66 764.7,115.66 764.7,118.78 685.9,105.63" fill="#cc3f08"/>
<polygon points="685.9,109.58 764.7,122.91 764.7,126.02 685.9,112.55" fill="#cc3f08"/>
<polygon points="685.9,116.5 764.7,130.15 764.7,133.26 685.9,119.47" fill="#cc3f08"/>
<polygon points="685.9,123.41 764.7,137.39 764.7,140.51 685.9,126.39" fill="#cc3f08"/>
<polygon points="685.9,130.33 764.7,144.64 764.7,147.75 685.9,133.31" fill="#cc3f08"/>
<polygon points="685.9,137.25 764.7,151.88 764.7,154.99 685.9,140.23" fill="#cc3f08"/>
<polygon points="685.9,144.17 764.7,159.12 764.7,162.24 685.9,147.15" fill="#cc3f08"/>
<polygon points="685.9,151.09 764.7,166.37 764.7,169.48 685.9,154.06" fill="#cc3f08"/>
<polygon points="685.9,158.01 764.7,173.61 764.7,176.72 685.9,160.98" fill="#cc3f08"/>
<polygon points="685.9,164.93 764.7,180.85 764.7,183.97 685.9,167.9" fill="#cc3f08"/>
<polygon points="685.9,171.85 764.7,188.1 764.7,191.21 685.9,174.82" fill="#cc3f08"/>
<polygon points="685.9,178.76 764.7,195.34 764.7,198.45 685.9,181.74" fill="#cc3f08"/>
<polygon points="685.9,185.68 764.7,202.58 764.7,205.7 685.9,188.66" fill="#cc3f08"/>
<polygon points="685.9,192.6 764.7,209.83 764.7,212.94 685.9,195.58" fill="#cc3f08"/>
<polygon points="685.9,199.52 764.7,217.07 764.7,220.18 685.9,202.5" fill="#cc3f08"/>
<polygon points="685.9,206.44 764.7,224.31 764.7,227.43 685.9,209.42" fill="#cc3f08"/>
<polygon points="685.9,213.36 764.7,231.56 764.7,234.67 685.9,216.33" fill="#cc3f08"/>
<polygon points="685.9,220.28 764.7,238.8 764.7,241.92 685.9,223.25" fill="#cc3f08"/>
<polygon points="685.9,227.2 764.7,246.04 764.7,249.16 685.9,230.17" fill="#cc3f08"/>
<polygon points="685.9,234.12 764.7,253.29 764.7,256.4 685.9,237.09" fill="#cc3f08"/>
<polygon points="685.9,241.03 764.7,260.53 764.7,263.65 685.9,244.01" fill="#cc3f08"/>
<polygon points="685.9,247.95 764.7,267.77 764.7,270.89 685.9,250.93" fill="#cc3f08"/>
<polygon points="685.9,254.87 764.7,275.02 764.7,278.13 685.9,257.85" fill="#cc3f08"/>
<polygon points="685.9,261.79 764.7,282.26 764.7,285.38 685.9,264.77" fill="#cc3f08"/>
<polygon points="685.9,268.71 764.7,289.5 764.7,292.62 685.9,271.68" fill="#cc3f08"/>
<polygon points="685.9,275.63 764.7,296.75 764.7,299.86 685.9,278.6" fill="#cc3f08"/>
<polygon points="685.9,282.55 764.7,303.99 764.7,307.11 685.9,285.52" fill="#cc3f08"/>
<polygon points="685.9,289.47 764.7,311.23 764.7,314.35 685.9,292.44" fill="#cc3f08"/>
<polygon points="685.9,296.38 764.7,318.48 764.7,321.59 685.9,299.36" fill="#cc3f08"/>
<polygon points="685.9,303.3 764.7,325.72 764.7,328.84 685.9,306.28" fill="#cc3f08"/>
<polygon points="685.9,310.22 764.7,332.97 764.7,336.08 685.9,313.2" fill="#cc3f08"/>
<polygon points="685.9,317.14 764.7,340.21 764.7,343.32 685.9,320.12" fill="#cc3f08"/>
<polygon points="685.9,324.06 764.7,347.45 764.7,350.57 685.9,327.03" fill="#cc3f08"/>
<polygon points="685.9,330.98 764.7,354.7 764.7,357.81 685.9,333.95" fill="#cc3f08"/>
<polygon points="685.9,337.9 764.7,361.94 764.7,365.05 685.9,340.87" fill="#cc3f08"/>
<polygon points="685.9,344.82 764.7,369.18 764.7,372.3 685.9,347.79" fill="#cc3f08"/>
<polygon points="685.9,351.73 764.7,376.43 764.7,379.54 685.9,354.71" fill="#cc3f08"/>
<polygon points="685.9,358.65 764.7,383.67 764.7,386.78 685.9,361.63" fill="#cc3f08"/>
<polygon points="685.9,365.57 764.7,390.91 764.7,394.03 685.9,368.55" fill="#cc3f08"/>
<polygon points="685.9,372.49 764.7,398.16 764.7,401.27 685.9,375.47" fill="#cc3f08"/>
<polygon points="685.9,379.41 764.7,405.4 764.7,408.51 685.9,382.38" fill="#cc3f08"/>
<polygon points="685.9,386.33 764.7,412.64 764.7,415.76 685.9,389.3" fill="#cc3f08"/>
<polygon points="685.9,393.25 764.7,419.89 764.7,423 685.9,396.22" fill="#cc3f08"/>
<polygon points="685.9,400.17 764.7,427.13 764.7,430.24 685.9,403.14" fill="#cc3f08"/>
<polygon points="685.9,407.08 764.7,434.37 764.7,437.49 685.9,410.06" fill="#cc3f08"/>
<polygon points="685.9,414 764.7,441.62 764.7,444.73 685.9,416.98" fill="#cc3f08"/>
<polygon points="685.9,420.92 764.7,448.86 764.7,451.98 685.9,423.9" fill="#cc3f08"/>
<polygon points="685.9,427.84 764.7,456.1 764.7,459.22 685.9,430.82" fill="#cc3f08"/>
<polygon points="685.9,434.76 764.7,463.35 764.7,466.46 685.9,437.73" fill="#cc3f08"/>
<polygon points="685.9,441.68 764.7,470.59 764.7,473.71 685.9,444.65" fill="#cc3f08"/>
<polygon points="685.9,448.6 764.7,477.83 764.7,480.95 685.9,451.57" fill="#cc3f08"/>
<polygon points="685.9,455.52 764.7,485.08 764.7,488.19 685.9,458.49" fill="#cc3f08"/>
<polygon points="685.9,462.43 764.7,492.32 764.7,495.44 685.9,465.41" fill="#cc3f08"/>
</g></g>
<g clip-path="url(#trR)"><g filter="url(#b2)">
<polygon points="763.9,88.62 800.6,80.27 800.6,480.44 763.9,500.58" fill="#6f9be0"/>
<polygon points="763.9,94.23 802.4,85.3 802.4,88.46 763.9,97.49" fill="#ddd842"/>
<polygon points="763.9,101.47 802.4,92.32 802.4,95.48 763.9,104.73" fill="#ddd842"/>
<polygon points="763.9,108.71 802.4,99.35 802.4,102.51 763.9,111.97" fill="#ddd842"/>
<polygon points="763.9,115.95 802.4,106.37 802.4,109.53 763.9,119.21" fill="#ddd842"/>
<polygon points="763.9,123.19 802.4,113.39 802.4,116.55 763.9,126.45" fill="#ddd842"/>
<polygon points="763.9,130.43 802.4,120.41 802.4,123.57 763.9,133.69" fill="#ddd842"/>
<polygon points="763.9,137.67 802.4,127.44 802.4,130.6 763.9,140.93" fill="#ddd842"/>
<polygon points="763.9,144.91 802.4,134.46 802.4,137.62 763.9,148.17" fill="#ddd842"/>
<polygon points="763.9,152.15 802.4,141.48 802.4,144.64 763.9,155.41" fill="#ddd842"/>
<polygon points="763.9,159.39 802.4,148.51 802.4,151.67 763.9,162.65" fill="#ddd842"/>
<polygon points="763.9,166.63 802.4,155.53 802.4,158.69 763.9,169.89" fill="#ddd842"/>
<polygon points="763.9,173.87 802.4,162.55 802.4,165.71 763.9,177.13" fill="#ddd842"/>
<polygon points="763.9,181.11 802.4,169.57 802.4,172.73 763.9,184.37" fill="#ddd842"/>
<polygon points="763.9,188.35 802.4,176.6 802.4,179.76 763.9,191.61" fill="#ddd842"/>
<polygon points="763.9,195.59 802.4,183.62 802.4,186.78 763.9,198.85" fill="#ddd842"/>
<polygon points="763.9,202.83 802.4,190.64 802.4,193.8 763.9,206.09" fill="#ddd842"/>
<polygon points="763.9,210.07 802.4,197.67 802.4,200.83 763.9,213.33" fill="#ddd842"/>
<polygon points="763.9,217.31 802.4,204.69 802.4,207.85 763.9,220.57" fill="#ddd842"/>
<polygon points="763.9,224.55 802.4,211.71 802.4,214.87 763.9,227.81" fill="#ddd842"/>
<polygon points="763.9,231.79 802.4,218.73 802.4,221.89 763.9,235.05" fill="#ddd842"/>
<polygon points="763.9,239.03 802.4,225.76 802.4,228.92 763.9,242.29" fill="#ddd842"/>
<polygon points="763.9,246.27 802.4,232.78 802.4,235.94 763.9,249.53" fill="#ddd842"/>
<polygon points="763.9,253.51 802.4,239.8 802.4,242.96 763.9,256.77" fill="#ddd842"/>
<polygon points="763.9,260.75 802.4,246.83 802.4,249.99 763.9,264.01" fill="#ddd842"/>
<polygon points="763.9,267.99 802.4,253.85 802.4,257.01 763.9,271.25" fill="#ddd842"/>
<polygon points="763.9,275.23 802.4,260.87 802.4,264.03 763.9,278.49" fill="#ddd842"/>
<polygon points="763.9,282.47 802.4,267.89 802.4,271.05 763.9,285.73" fill="#ddd842"/>
<polygon points="763.9,289.71 802.4,274.92 802.4,278.08 763.9,292.97" fill="#ddd842"/>
<polygon points="763.9,296.95 802.4,281.94 802.4,285.1 763.9,300.21" fill="#ddd842"/>
<polygon points="763.9,304.19 802.4,288.96 802.4,292.12 763.9,307.45" fill="#ddd842"/>
<polygon points="763.9,311.43 802.4,295.99 802.4,299.15 763.9,314.69" fill="#ddd842"/>
<polygon points="763.9,318.67 802.4,303.01 802.4,306.17 763.9,321.93" fill="#ddd842"/>
<polygon points="763.9,325.91 802.4,310.03 802.4,313.19 763.9,329.17" fill="#ddd842"/>
<polygon points="763.9,333.15 802.4,317.05 802.4,320.21 763.9,336.41" fill="#ddd842"/>
<polygon points="763.9,340.39 802.4,324.08 802.4,327.24 763.9,343.65" fill="#ddd842"/>
<polygon points="763.9,347.63 802.4,331.1 802.4,334.26 763.9,350.89" fill="#ddd842"/>
<polygon points="763.9,354.87 802.4,338.12 802.4,341.28 763.9,358.13" fill="#ddd842"/>
<polygon points="763.9,362.11 802.4,345.15 802.4,348.31 763.9,365.37" fill="#ddd842"/>
<polygon points="763.9,369.35 802.4,352.17 802.4,355.33 763.9,372.61" fill="#ddd842"/>
<polygon points="763.9,376.59 802.4,359.19 802.4,362.35 763.9,379.85" fill="#ddd842"/>
<polygon points="763.9,383.83 802.4,366.21 802.4,369.37 763.9,387.09" fill="#ddd842"/>
<polygon points="763.9,391.07 802.4,373.24 802.4,376.4 763.9,394.33" fill="#ddd842"/>
<polygon points="763.9,398.31 802.4,380.26 802.4,383.42 763.9,401.57" fill="#ddd842"/>
<polygon points="763.9,405.55 802.4,387.28 802.4,390.44 763.9,408.81" fill="#ddd842"/>
<polygon points="763.9,412.79 802.4,394.31 802.4,397.47 763.9,416.05" fill="#ddd842"/>
<polygon points="763.9,420.03 802.4,401.33 802.4,404.49 763.9,423.29" fill="#ddd842"/>
<polygon points="763.9,427.27 802.4,408.35 802.4,411.51 763.9,430.53" fill="#ddd842"/>
<polygon points="763.9,434.51 802.4,415.37 802.4,418.53 763.9,437.77" fill="#ddd842"/>
<polygon points="763.9,441.75 802.4,422.4 802.4,425.56 763.9,445.01" fill="#ddd842"/>
<polygon points="763.9,448.99 802.4,429.42 802.4,432.58 763.9,452.25" fill="#ddd842"/>
<polygon points="763.9,456.23 802.4,436.44 802.4,439.6 763.9,459.49" fill="#ddd842"/>
<polygon points="763.9,463.47 802.4,443.47 802.4,446.63 763.9,466.73" fill="#ddd842"/>
<polygon points="763.9,470.71 802.4,450.49 802.4,453.65 763.9,473.97" fill="#ddd842"/>
<polygon points="763.9,477.95 802.4,457.51 802.4,460.67 763.9,481.21" fill="#ddd842"/>
<polygon points="763.9,485.19 802.4,464.53 802.4,467.69 763.9,488.45" fill="#ddd842"/>
<polygon points="763.9,492.43 802.4,471.56 802.4,474.72 763.9,495.69" fill="#ddd842"/>
</g></g>
<polygon points="697.5,447 744.5,460 764.6,466.5 764.6,478 753.2,473.4 697.5,452" fill="#86b0e6"/>
<polygon points="703.1,442 744.3,457.5 737,463.2 698.4,448.7" fill="#e4470c"/>
<polygon points="737,463.2 744.3,457.5 746.2,458.4 746.2,463.4 742,466.2" fill="#4a74d0"/>
<polygon points="744,466.6 764.6,473 764.6,469.6 746,463.6" fill="#ead23c"/>
<polygon points="746,468.2 760,472.8 760,471.2 748,467.2" fill="#ee8a1c"/>
<polygon points="764,450 779.1,446.2 788.5,451.4 764,465" fill="#2f56bc"/>
<polygon points="764,455.6 778.5,448.4 780.8,449.8 764,458.6" fill="#7fb0e4"/>
<polygon points="779.1,446.4 786.4,441.8 801,445.9 789.5,452.4" fill="url(#canopy)"/>
<path d="M685.9 81.61 L686.71 81.41 Q685.27 83.1 686.71 84.79 L687.7 85.49 L687.7 87.63 L686.71 88.33 Q685.27 90.01 686.71 91.7 L687.7 92.4 L687.7 94.54 L686.71 95.24 Q685.27 96.92 686.71 98.61 L687.7 99.31 L687.7 101.45 L686.71 102.15 Q685.27 103.83 686.71 105.52 L687.7 106.22 L687.7 108.36 L686.71 109.06 Q685.27 110.74 686.71 112.43 L687.7 113.13 L687.7 115.27 L686.71 115.97 Q685.27 117.65 686.71 119.34 L687.7 120.04 L687.7 122.18 L686.71 122.88 Q685.27 124.57 686.71 126.25 L687.7 126.95 L687.7 129.09 L686.71 129.79 Q685.27 131.48 686.71 133.16 L687.7 133.86 L687.7 136 L686.71 136.7 Q685.27 138.39 686.71 140.07 L687.7 140.77 L687.7 142.91 L686.71 143.61 Q685.27 145.3 686.71 146.98 L687.7 147.68 L687.7 149.82 L686.71 150.52 Q685.27 152.21 686.71 153.9 L687.7 154.6 L687.7 156.74 L686.71 157.44 Q685.27 159.12 686.71 160.81 L687.7 161.51 L687.7 163.65 L686.71 164.35 Q685.27 166.03 686.71 167.72 L687.7 168.42 L687.7 170.56 L686.71 171.26 Q685.27 172.94 686.71 174.63 L687.7 175.33 L687.7 177.47 L686.71 178.17 Q685.27 179.85 686.71 181.54 L687.7 182.24 L687.7 184.38 L686.71 185.08 Q685.27 186.76 686.71 188.45 L687.7 189.15 L687.7 191.29 L686.71 191.99 Q685.27 193.68 686.71 195.36 L687.7 196.06 L687.7 198.2 L686.71 198.9 Q685.27 200.59 686.71 202.27 L687.7 202.97 L687.7 205.11 L686.71 205.81 Q685.27 207.5 686.71 209.18 L687.7 209.88 L687.7 212.02 L686.71 212.72 Q685.27 214.41 686.71 216.09 L687.7 216.79 L687.7 218.93 L686.71 219.63 Q685.27 221.32 686.71 223.01 L687.7 223.71 L687.7 225.85 L686.71 226.55 Q685.27 228.23 686.71 229.92 L687.7 230.62 L687.7 232.76 L686.71 233.46 Q685.27 235.14 686.71 236.83 L687.7 237.53 L687.7 239.67 L686.71 240.37 Q685.27 242.05 686.71 243.74 L687.7 244.44 L687.7 246.58 L686.71 247.28 Q685.27 248.96 686.71 250.65 L687.7 251.35 L687.7 253.49 L686.71 254.19 Q685.27 255.88 686.71 257.56 L687.7 258.26 L687.7 260.4 L686.71 261.1 Q685.27 262.79 686.71 264.47 L687.7 265.17 L687.7 267.31 L686.71 268.01 Q685.27 269.7 686.71 271.38 L687.7 272.08 L687.7 274.22 L686.71 274.92 Q685.27 276.61 686.71 278.29 L687.7 278.99 L687.7 281.13 L686.71 281.83 Q685.27 283.52 686.71 285.2 L687.7 285.9 L687.7 288.04 L686.71 288.74 Q685.27 290.43 686.71 292.12 L687.7 292.82 L687.7 294.96 L686.71 295.66 Q685.27 297.34 686.71 299.03 L687.7 299.73 L687.7 301.87 L686.71 302.57 Q685.27 304.25 686.71 305.94 L687.7 306.64 L687.7 308.78 L686.71 309.48 Q685.27 311.16 686.71 312.85 L687.7 313.55 L687.7 315.69 L686.71 316.39 Q685.27 318.07 686.71 319.76 L687.7 320.46 L687.7 322.6 L686.71 323.3 Q685.27 324.99 686.71 326.67 L687.7 327.37 L687.7 329.51 L686.71 330.21 Q685.27 331.9 686.71 333.58 L687.7 334.28 L687.7 336.42 L686.71 337.12 Q685.27 338.81 686.71 340.49 L687.7 341.19 L687.7 343.33 L686.71 344.03 Q685.27 345.72 686.71 347.4 L687.7 348.1 L687.7 350.24 L686.71 350.94 Q685.27 352.63 686.71 354.31 L687.7 355.01 L687.7 357.15 L686.71 357.85 Q685.27 359.54 686.71 361.23 L687.7 361.93 L687.7 364.07 L686.71 364.77 Q685.27 366.45 686.71 368.14 L687.7 368.84 L687.7 370.98 L686.71 371.68 Q685.27 373.36 686.71 375.05 L687.7 375.75 L687.7 377.89 L686.71 378.59 Q685.27 380.27 686.71 381.96 L687.7 382.66 L687.7 384.8 L686.71 385.5 Q685.27 387.18 686.71 388.87 L687.7 389.57 L687.7 391.71 L686.71 392.41 Q685.27 394.09 686.71 395.78 L687.7 396.48 L687.7 398.62 L686.71 399.32 Q685.27 401.01 686.71 402.69 L687.7 403.39 L687.7 405.53 L686.71 406.23 Q685.27 407.92 686.71 409.6 L687.7 410.3 L687.7 412.44 L686.71 413.14 Q685.27 414.83 686.71 416.51 L687.7 417.21 L687.7 419.35 L686.71 420.05 Q685.27 421.74 686.71 423.42 L687.7 424.12 L687.7 426.26 L686.71 426.96 Q685.27 428.65 686.71 430.34 L687.7 431.04 L687.7 433.18 L686.71 433.88 Q685.27 435.56 686.71 437.25 L687.7 437.95 L687.7 440.09 L686.71 440.79 Q685.27 442.47 686.71 444.16 L687.7 444.86 L687.7 447" fill="none" stroke="#3b2a14" stroke-width="1.1" stroke-linejoin="round"/>
<path d="M802.4 85.72 L801.59 85.52 Q803.03 87.3 801.59 89.08 L800.6 89.78 L800.6 91.85 L801.59 92.55 Q803.03 94.33 801.59 96.12 L800.6 96.82 L800.6 98.88 L801.59 99.58 Q803.03 101.37 801.59 103.15 L800.6 103.85 L800.6 105.92 L801.59 106.62 Q803.03 108.4 801.59 110.18 L800.6 110.88 L800.6 112.95 L801.59 113.65 Q803.03 115.43 801.59 117.21 L800.6 117.91 L800.6 119.98 L801.59 120.68 Q803.03 122.47 801.59 124.25 L800.6 124.95 L800.6 127.02 L801.59 127.72 Q803.03 129.5 801.59 131.28 L800.6 131.98 L800.6 134.05 L801.59 134.75 Q803.03 136.53 801.59 138.31 L800.6 139.01 L800.6 141.08 L801.59 141.78 Q803.03 143.56 801.59 145.35 L800.6 146.05 L800.6 148.11 L801.59 148.81 Q803.03 150.6 801.59 152.38 L800.6 153.08 L800.6 155.15 L801.59 155.85 Q803.03 157.63 801.59 159.41 L800.6 160.11 L800.6 162.18 L801.59 162.88 Q803.03 164.66 801.59 166.45 L800.6 167.15 L800.6 169.21 L801.59 169.91 Q803.03 171.7 801.59 173.48 L800.6 174.18 L800.6 176.25 L801.59 176.95 Q803.03 178.73 801.59 180.51 L800.6 181.21 L800.6 183.28 L801.59 183.98 Q803.03 185.76 801.59 187.54 L800.6 188.24 L800.6 190.31 L801.59 191.01 Q803.03 192.8 801.59 194.58 L800.6 195.28 L800.6 197.35 L801.59 198.05 Q803.03 199.83 801.59 201.61 L800.6 202.31 L800.6 204.38 L801.59 205.08 Q803.03 206.86 801.59 208.64 L800.6 209.34 L800.6 211.41 L801.59 212.11 Q803.03 213.89 801.59 215.68 L800.6 216.38 L800.6 218.44 L801.59 219.14 Q803.03 220.93 801.59 222.71 L800.6 223.41 L800.6 225.48 L801.59 226.18 Q803.03 227.96 801.59 229.74 L800.6 230.44 L800.6 232.51 L801.59 233.21 Q803.03 234.99 801.59 236.78 L800.6 237.48 L800.6 239.54 L801.59 240.24 Q803.03 242.03 801.59 243.81 L800.6 244.51 L800.6 246.58 L801.59 247.28 Q803.03 249.06 801.59 250.84 L800.6 251.54 L800.6 253.61 L801.59 254.31 Q803.03 256.09 801.59 257.87 L800.6 258.57 L800.6 260.64 L801.59 261.34 Q803.03 263.12 801.59 264.91 L800.6 265.61 L800.6 267.68 L801.59 268.38 Q803.03 270.16 801.59 271.94 L800.6 272.64 L800.6 274.71 L801.59 275.41 Q803.03 277.19 801.59 278.97 L800.6 279.67 L800.6 281.74 L801.59 282.44 Q803.03 284.22 801.59 286.01 L800.6 286.71 L800.6 288.77 L801.59 289.47 Q803.03 291.26 801.59 293.04 L800.6 293.74 L800.6 295.81 L801.59 296.51 Q803.03 298.29 801.59 300.07 L800.6 300.77 L800.6 302.84 L801.59 303.54 Q803.03 305.32 801.59 307.11 L800.6 307.81 L800.6 309.87 L801.59 310.57 Q803.03 312.36 801.59 314.14 L800.6 314.84 L800.6 316.91 L801.59 317.61 Q803.03 319.39 801.59 321.17 L800.6 321.87 L800.6 323.94 L801.59 324.64 Q803.03 326.42 801.59 328.2 L800.6 328.9 L800.6 330.97 L801.59 331.67 Q803.03 333.46 801.59 335.24 L800.6 335.94 L800.6 338.01 L801.59 338.71 Q803.03 340.49 801.59 342.27 L800.6 342.97 L800.6 345.04 L801.59 345.74 Q803.03 347.52 801.59 349.3 L800.6 350 L800.6 352.07 L801.59 352.77 Q803.03 354.55 801.59 356.34 L800.6 357.04 L800.6 359.1 L801.59 359.8 Q803.03 361.59 801.59 363.37 L800.6 364.07 L800.6 366.14 L801.59 366.84 Q803.03 368.62 801.59 370.4 L800.6 371.1 L800.6 373.17 L801.59 373.87 Q803.03 375.65 801.59 377.44 L800.6 378.14 L800.6 380.2 L801.59 380.9 Q803.03 382.69 801.59 384.47 L800.6 385.17 L800.6 387.24 L801.59 387.94 Q803.03 389.72 801.59 391.5 L800.6 392.2 L800.6 394.27 L801.59 394.97 Q803.03 396.75 801.59 398.53 L800.6 399.23 L800.6 401.3 L801.59 402 Q803.03 403.79 801.59 405.57 L800.6 406.27 L800.6 408.34 L801.59 409.04 Q803.03 410.82 801.59 412.6 L800.6 413.3 L800.6 415.37 L801.59 416.07 Q803.03 417.85 801.59 419.63 L800.6 420.33 L800.6 422.4 L801.59 423.1 Q803.03 424.88 801.59 426.67 L800.6 427.37 L800.6 429.43 L801.59 430.13 Q803.03 431.92 801.59 433.7 L800.6 434.4 L800.6 436.47 L801.59 437.17 Q803.03 438.95 801.59 440.73 L800.6 441.43 L800.6 443.5 L801.59 444.2 Q803.03 445.98 801.59 447.77" fill="none" stroke="#2a2c3a" stroke-width="1.1" stroke-linejoin="round"/>
<path d="M687.5 447 Q687.6 448.4 689 449 L753.2 473.6" fill="none" stroke="#16243a" stroke-width="1" stroke-linejoin="round"/>
<polygon points="686.1,81.8 724.7,73.4 802.2,85.8 763.9,94" fill="#dc1a0c"/>
<path d="M686.1 81.7 L724.7 73.4 L802.3 85.6" fill="none" stroke="#3a1420" stroke-width="0.9" stroke-linejoin="round"/>
<path d="M686.1 82.0 L763.9 94.1 L802.3 86.0" fill="none" stroke="#5a1636" stroke-width="1.5" stroke-linejoin="round"/>
</g>
<clipPath id="rdc"><path d="M743.6 490.1 C743.38 486.98 744.03 484.05 746 480.7 C747.97 477.35 751.62 473.22 755.4 470 C759.18 466.78 763.82 464.07 768.7 461.4 C773.58 458.73 779.13 456.33 784.7 454 C790.27 451.67 796.53 449.28 802.1 447.4 C807.67 445.52 813.2 443.72 818.1 442.7 C823 441.68 827.05 440.97 831.5 441.3 C835.95 441.63 840.8 442.92 844.8 444.7 C848.8 446.48 853 449.33 855.5 452 C858 454.67 859.47 457.7 859.8 460.7 C860.13 463.7 859.33 466.43 857.5 470 C855.67 473.57 852.7 478.08 848.8 482.1 C844.9 486.12 839.22 490.32 834.1 494.1 C828.98 497.88 823.43 501.8 818.1 504.8 C812.77 507.8 807.67 510.28 802.1 512.1 C796.53 513.92 790.05 515.25 784.7 515.7 C779.35 516.15 774.67 515.95 770 514.8 C765.33 513.65 760.48 511.37 756.7 508.8 C752.92 506.23 749.48 502.52 747.3 499.4 C745.12 496.28 743.82 493.22 743.6 490.1Z"/></clipPath>
<g id="right-dome">
<g clip-path="url(#rdc)">
<path d="M743.6 490.1 C743.38 486.98 744.03 484.05 746 480.7 C747.97 477.35 751.62 473.22 755.4 470 C759.18 466.78 763.82 464.07 768.7 461.4 C773.58 458.73 779.13 456.33 784.7 454 C790.27 451.67 796.53 449.28 802.1 447.4 C807.67 445.52 813.2 443.72 818.1 442.7 C823 441.68 827.05 440.97 831.5 441.3 C835.95 441.63 840.8 442.92 844.8 444.7 C848.8 446.48 853 449.33 855.5 452 C858 454.67 859.47 457.7 859.8 460.7 C860.13 463.7 859.33 466.43 857.5 470 C855.67 473.57 852.7 478.08 848.8 482.1 C844.9 486.12 839.22 490.32 834.1 494.1 C828.98 497.88 823.43 501.8 818.1 504.8 C812.77 507.8 807.67 510.28 802.1 512.1 C796.53 513.92 790.05 515.25 784.7 515.7 C779.35 516.15 774.67 515.95 770 514.8 C765.33 513.65 760.48 511.37 756.7 508.8 C752.92 506.23 749.48 502.52 747.3 499.4 C745.12 496.28 743.82 493.22 743.6 490.1Z" fill="#3f6fd6"/>
<g filter="url(#b1)">
<path d="M743.6 490.1 C743.38 486.98 744.03 484.05 746 480.7 C747.97 477.35 751.62 473.22 755.4 470 C759.18 466.78 763.82 464.07 768.7 461.4 C773.58 458.73 779.13 456.33 784.7 454 C790.27 451.67 796.53 449.28 802.1 447.4 C807.67 445.52 813.2 443.72 818.1 442.7 C823 441.68 827.05 440.97 831.5 441.3 C835.95 441.63 840.8 442.92 844.8 444.7 C848.8 446.48 853 449.33 855.5 452 C858 454.67 859.47 457.7 859.8 460.7 C860.13 463.7 859.33 466.43 857.5 470 C855.67 473.57 852.7 478.08 848.8 482.1 C844.9 486.12 839.22 490.32 834.1 494.1 C828.98 497.88 823.43 501.8 818.1 504.8 C812.77 507.8 807.67 510.28 802.1 512.1 C796.53 513.92 790.05 515.25 784.7 515.7 C779.35 516.15 774.67 515.95 770 514.8 C765.33 513.65 760.48 511.37 756.7 508.8 C752.92 506.23 749.48 502.52 747.3 499.4 C745.12 496.28 743.82 493.22 743.6 490.1Z" transform="translate(-2.48 -2.75)" fill="#4f82e2"/>
<path d="M743.6 490.1 C743.38 486.98 744.03 484.05 746 480.7 C747.97 477.35 751.62 473.22 755.4 470 C759.18 466.78 763.82 464.07 768.7 461.4 C773.58 458.73 779.13 456.33 784.7 454 C790.27 451.67 796.53 449.28 802.1 447.4 C807.67 445.52 813.2 443.72 818.1 442.7 C823 441.68 827.05 440.97 831.5 441.3 C835.95 441.63 840.8 442.92 844.8 444.7 C848.8 446.48 853 449.33 855.5 452 C858 454.67 859.47 457.7 859.8 460.7 C860.13 463.7 859.33 466.43 857.5 470 C855.67 473.57 852.7 478.08 848.8 482.1 C844.9 486.12 839.22 490.32 834.1 494.1 C828.98 497.88 823.43 501.8 818.1 504.8 C812.77 507.8 807.67 510.28 802.1 512.1 C796.53 513.92 790.05 515.25 784.7 515.7 C779.35 516.15 774.67 515.95 770 514.8 C765.33 513.65 760.48 511.37 756.7 508.8 C752.92 506.23 749.48 502.52 747.3 499.4 C745.12 496.28 743.82 493.22 743.6 490.1Z" transform="translate(-5.58 -6.19)" fill="#86b2ea"/>
<path d="M743.6 490.1 C743.38 486.98 744.03 484.05 746 480.7 C747.97 477.35 751.62 473.22 755.4 470 C759.18 466.78 763.82 464.07 768.7 461.4 C773.58 458.73 779.13 456.33 784.7 454 C790.27 451.67 796.53 449.28 802.1 447.4 C807.67 445.52 813.2 443.72 818.1 442.7 C823 441.68 827.05 440.97 831.5 441.3 C835.95 441.63 840.8 442.92 844.8 444.7 C848.8 446.48 853 449.33 855.5 452 C858 454.67 859.47 457.7 859.8 460.7 C860.13 463.7 859.33 466.43 857.5 470 C855.67 473.57 852.7 478.08 848.8 482.1 C844.9 486.12 839.22 490.32 834.1 494.1 C828.98 497.88 823.43 501.8 818.1 504.8 C812.77 507.8 807.67 510.28 802.1 512.1 C796.53 513.92 790.05 515.25 784.7 515.7 C779.35 516.15 774.67 515.95 770 514.8 C765.33 513.65 760.48 511.37 756.7 508.8 C752.92 506.23 749.48 502.52 747.3 499.4 C745.12 496.28 743.82 493.22 743.6 490.1Z" transform="translate(-8.83 -9.8)" fill="#c6d868"/>
<path d="M743.6 490.1 C743.38 486.98 744.03 484.05 746 480.7 C747.97 477.35 751.62 473.22 755.4 470 C759.18 466.78 763.82 464.07 768.7 461.4 C773.58 458.73 779.13 456.33 784.7 454 C790.27 451.67 796.53 449.28 802.1 447.4 C807.67 445.52 813.2 443.72 818.1 442.7 C823 441.68 827.05 440.97 831.5 441.3 C835.95 441.63 840.8 442.92 844.8 444.7 C848.8 446.48 853 449.33 855.5 452 C858 454.67 859.47 457.7 859.8 460.7 C860.13 463.7 859.33 466.43 857.5 470 C855.67 473.57 852.7 478.08 848.8 482.1 C844.9 486.12 839.22 490.32 834.1 494.1 C828.98 497.88 823.43 501.8 818.1 504.8 C812.77 507.8 807.67 510.28 802.1 512.1 C796.53 513.92 790.05 515.25 784.7 515.7 C779.35 516.15 774.67 515.95 770 514.8 C765.33 513.65 760.48 511.37 756.7 508.8 C752.92 506.23 749.48 502.52 747.3 499.4 C745.12 496.28 743.82 493.22 743.6 490.1Z" transform="translate(-10.38 -11.52)" fill="#f8e22a"/>
<path d="M743.6 490.1 C743.38 486.98 744.03 484.05 746 480.7 C747.97 477.35 751.62 473.22 755.4 470 C759.18 466.78 763.82 464.07 768.7 461.4 C773.58 458.73 779.13 456.33 784.7 454 C790.27 451.67 796.53 449.28 802.1 447.4 C807.67 445.52 813.2 443.72 818.1 442.7 C823 441.68 827.05 440.97 831.5 441.3 C835.95 441.63 840.8 442.92 844.8 444.7 C848.8 446.48 853 449.33 855.5 452 C858 454.67 859.47 457.7 859.8 460.7 C860.13 463.7 859.33 466.43 857.5 470 C855.67 473.57 852.7 478.08 848.8 482.1 C844.9 486.12 839.22 490.32 834.1 494.1 C828.98 497.88 823.43 501.8 818.1 504.8 C812.77 507.8 807.67 510.28 802.1 512.1 C796.53 513.92 790.05 515.25 784.7 515.7 C779.35 516.15 774.67 515.95 770 514.8 C765.33 513.65 760.48 511.37 756.7 508.8 C752.92 506.23 749.48 502.52 747.3 499.4 C745.12 496.28 743.82 493.22 743.6 490.1Z" transform="translate(-13.33 -14.79)" fill="#f28c1c"/>
<path d="M743.6 490.1 C743.38 486.98 744.03 484.05 746 480.7 C747.97 477.35 751.62 473.22 755.4 470 C759.18 466.78 763.82 464.07 768.7 461.4 C773.58 458.73 779.13 456.33 784.7 454 C790.27 451.67 796.53 449.28 802.1 447.4 C807.67 445.52 813.2 443.72 818.1 442.7 C823 441.68 827.05 440.97 831.5 441.3 C835.95 441.63 840.8 442.92 844.8 444.7 C848.8 446.48 853 449.33 855.5 452 C858 454.67 859.47 457.7 859.8 460.7 C860.13 463.7 859.33 466.43 857.5 470 C855.67 473.57 852.7 478.08 848.8 482.1 C844.9 486.12 839.22 490.32 834.1 494.1 C828.98 497.88 823.43 501.8 818.1 504.8 C812.77 507.8 807.67 510.28 802.1 512.1 C796.53 513.92 790.05 515.25 784.7 515.7 C779.35 516.15 774.67 515.95 770 514.8 C765.33 513.65 760.48 511.37 756.7 508.8 C752.92 506.23 749.48 502.52 747.3 499.4 C745.12 496.28 743.82 493.22 743.6 490.1Z" transform="translate(-15.5 -17.2)" fill="url(#rdtop)"/>
</g>
</g>
<path d="M743.6 490.1 C743.38 486.98 744.03 484.05 746 480.7 C747.97 477.35 751.62 473.22 755.4 470 C759.18 466.78 763.82 464.07 768.7 461.4 C773.58 458.73 779.13 456.33 784.7 454 C790.27 451.67 796.53 449.28 802.1 447.4 C807.67 445.52 813.2 443.72 818.1 442.7 C823 441.68 827.05 440.97 831.5 441.3 C835.95 441.63 840.8 442.92 844.8 444.7 C848.8 446.48 853 449.33 855.5 452 C858 454.67 859.47 457.7 859.8 460.7 C860.13 463.7 859.33 466.43 857.5 470 C855.67 473.57 852.7 478.08 848.8 482.1 C844.9 486.12 839.22 490.32 834.1 494.1 C828.98 497.88 823.43 501.8 818.1 504.8 C812.77 507.8 807.67 510.28 802.1 512.1 C796.53 513.92 790.05 515.25 784.7 515.7 C779.35 516.15 774.67 515.95 770 514.8 C765.33 513.65 760.48 511.37 756.7 508.8 C752.92 506.23 749.48 502.52 747.3 499.4 C745.12 496.28 743.82 493.22 743.6 490.1Z" fill="none" stroke="#20222e" stroke-width="0.9"/>
</g>
<rect x="379.2" y="97.8" width="17" height="106" fill="url(#leg)"/>
<rect x="847.3" y="102.2" width="16.7" height="106.4" fill="url(#leg)"/>
<g font-size="6.6" fill="#3c3c3c">
<text x="403" y="104">100%</text><text x="403" y="202.3">0%</text>
<text x="871" y="108.7">100%</text><text x="871" y="207">0%</text>
</g>
<g font-size="16.4" fill="#262626">
<text x="81" y="599.7" textLength="378.5" lengthAdjust="spacingAndGlyphs">Annual Average Solar Radiation Analysis - From Southwest</text>
<text x="583.7" y="599.7" textLength="376" lengthAdjust="spacingAndGlyphs">Annual Average Solar Radiation Analysis - From Southeast</text>
</g>
</svg>
</body></html>
